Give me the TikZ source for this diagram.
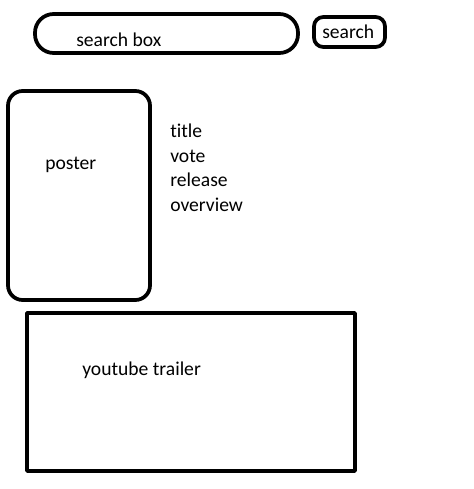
\documentclass[tikz,border=0pt]{standalone}
\usepackage{fontspec}
\setmainfont{Carlito}[Ligatures=NoCommon]
\begin{document}
\begin{tikzpicture}[x=0.75pt,y=-0.75pt,line join=round,line cap=round,
	font=\fontsize{14.7}{18.6}\selectfont,
	frame/.style={line width=2.8pt},
	lbl/.style={anchor=base west,inner sep=0pt}]
	\useasboundingbox (0,0) rectangle (474,489);
	\path 
	(35,14) coordinate (SBa)
	(298,53) coordinate (SBb)
	(314,17) coordinate (BTa)
	(385,47) coordinate (BTb)
	(8,91) coordinate (Pa)
	(150,300) coordinate (Pb)
	(27,313) coordinate (Ya)
	(355,471) coordinate (Yb)
	;
	\draw[frame,rounded corners=14] (SBa) rectangle (SBb);
	\draw[frame,rounded corners=7] (BTa) rectangle (BTb);
	\draw[frame,rounded corners=11] (Pa) rectangle (Pb);
	\draw[frame] (Ya) rectangle (Yb);
	\node[lbl] (searchbox) at (76,46) {search box};
	\node[lbl] (searchbtn) at (322,38) {search};
	\node[lbl] (poster) at (45,169) {poster};
	\node[lbl] (trailer) at (82,375) {youtube trailer};
	\foreach \t/\y in {title/137.3,vote/162,release/186.8,overview/211.6}
		\node[lbl] (\t) at (170,\y) {\t};
\end{tikzpicture}
\end{document}
